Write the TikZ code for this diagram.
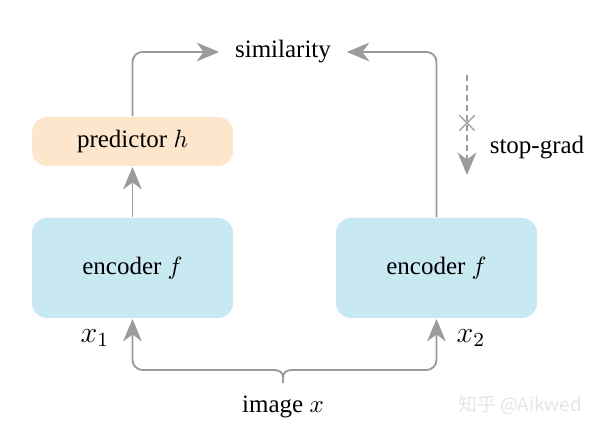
\documentclass[tikz,border=0pt]{standalone}
\usepackage{fontspec}
\setmainfont{Liberation Serif}
\newfontfamily\cjkfont{Noto Sans CJK SC}
\usetikzlibrary{arrows.meta,shapes.misc}

\definecolor{predfill}{HTML}{FDE6CC}
\definecolor{encfill}{HTML}{C8E8F2}
\definecolor{linegray}{HTML}{9B9B9B}

\tikzset{every picture/.style={line width=0.75pt}}
\tikzset{
  block/.style={rounded corners=6pt, minimum width=80.4pt, inner sep=0pt},
  flow/.style={draw=linegray, -{Stealth[length=9pt,width=7.5pt,inset=2.8pt]}},
}

\begin{document}
\begin{tikzpicture}[x=0.4pt,y=0.4pt,yscale=-1,xscale=1]
	\useasboundingbox (0,0) rectangle (595,430);

	% Blocks
	\node[block, fill=predfill, minimum height=19.6pt] (pred) at (132.5,141.5) {predictor $h$};
	\node[block, fill=encfill, minimum height=40pt] (enc1) at (132.5,268) {encoder $f$};
	\node[block, fill=encfill, minimum height=40pt] (enc2) at (436.5,268) {encoder $f$};

	% Text Node
	\node[inner xsep=6pt] (sim) at (283,52) {similarity};
	% Text Node
	\node (lx1) at (95,338) {\large $x_1$};
	% Text Node
	\node (lx2) at (471,338) {\large $x_2$};
	% Text Node
	\node (img) at (283,407) {image $x$};
	% Text Node
	\node (sgtext) at (537,148) {stop-grad};
	% Text Node
	\node[text=black!10] (mark) at (520,405) {\cjkfont\fontsize{7.5}{9}\selectfont 知乎 @Aikwed};

	% Straight Lines
	\draw[flow] (enc1) -- (pred);
	\draw[flow, rounded corners=4pt] (pred.north) |- (sim.west);
	\draw[flow, rounded corners=4pt] (enc2.north) |- (sim.east);

	% Brace
	\coordinate (brace) at (283,383);
	\draw[flow] (brace) -- (283,378) .. controls (283,372) and (280,370) .. (272,370) [rounded corners=4pt] -- (132.5,370) -- (enc1.south);
	\draw[flow] (brace) -- (283,378) .. controls (283,372) and (286,370) .. (294,370) [rounded corners=4pt] -- (436.5,370) -- (enc2.south);

	% Stop-grad
	\coordinate (sgtop) at (467,75);
	\coordinate (sgend) at (467,175);
	\draw[flow, dash pattern=on 2.5pt off 1.5pt] (sgtop) -- (sgend);
	\node[cross out, draw=linegray, line width=0.5pt, minimum size=5.6pt, inner sep=0pt, fill=white] (sgx) at (467,123) {};

\end{tikzpicture}
\end{document}
